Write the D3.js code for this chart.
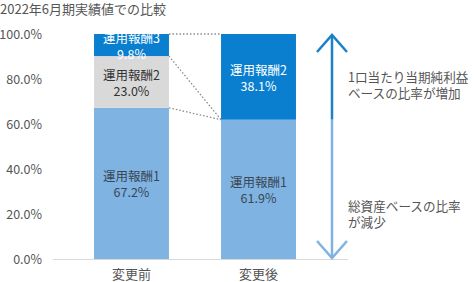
<!DOCTYPE html>
<html>
<head>
<meta charset="utf-8">
<script src="https://cdn.jsdelivr.net/npm/d3@7"></script>
<style>
  body { margin: 0; background: #fff; }
  svg { font-family: "Noto Sans CJK JP", "Noto Sans", sans-serif; }
</style>
</head>
<body>
<div id="chart"></div>
<script>
var categories = ["変更前", "変更後"];
var segNames = ["運用報酬1", "運用報酬2", "運用報酬3"];
var before = [67.2, 23.0, 9.8];
var after = [61.9, 38.1, 0];
var ticks = [0, 20, 40, 60, 80, 100];
var title = "2022年6月期実績値での比較";
var upNote = ["1口当たり当期純利益", "ベースの比率が増加"];
var downNote = ["総資産ベースの比率", "が減少"];

var width = 474;
var height = 282;

var svg = d3
  .select("#chart")
  .append("svg")
  .attr("width", width)
  .attr("height", height);

var x = d3.scaleBand().domain(categories).range([53, 337]).paddingInner(0.41).paddingOuter(0.323);
var y = d3.scaleLinear().domain([0, 100]).range([259, 34]);

// segment colours per bar
var fills = [
  ["#7fb3e1", "#d9d9d9", "#0a7fcf"],
  ["#7fb3e1", "#0a7fcf", "#0a7fcf"]
];
var textFills = [
  ["#3a4756", "#333333", "#ffffff"],
  ["#3a4756", "#ffffff", "#ffffff"]
];

svg
  .append("text")
  .attr("x", 0)
  .attr("y", 14)
  .attr("font-size", 13)
  .attr("fill", "#555")
  .text(title);

// y tick labels
svg
  .append("g")
  .selectAll("text")
  .data(ticks)
  .enter()
  .append("text")
  .attr("x", 42)
  .attr("y", function(d) { return y(d); })
  .attr("dy", "0.36em")
  .attr("text-anchor", "end")
  .attr("font-size", 12.5)
  .attr("fill", "#555")
  .text(function(d) { return d.toFixed(1) + "%"; });

var series = [before, after];
var stacks = series.map(function(vals, bi) {
  var acc = 0;
  return vals.map(function(v, si) {
    var s = { bar: bi, seg: si, y0: acc, y1: acc + v, value: v };
    acc += v;
    return s;
  }).filter(function(s) { return s.value > 0; });
});

// connector dotted lines
var b1 = x(categories[0]) + x.bandwidth();
var b2 = x(categories[1]);
var links = [
  [before[0], after[0]],
  [before[0] + before[1], after[0]],
  [100, 100]
];
svg
  .append("g")
  .selectAll("line")
  .data(links)
  .enter()
  .append("line")
  .attr("x1", b1)
  .attr("x2", b2)
  .attr("y1", function(d) { return y(d[0]); })
  .attr("y2", function(d) { return y(d[1]); })
  .attr("stroke", "#8a8a8a")
  .attr("stroke-width", 1.3)
  .attr("stroke-dasharray", "1.5,2");

var segs = d3.merge(stacks);
var seg = svg
  .append("g")
  .selectAll("g")
  .data(segs)
  .enter()
  .append("g");

seg
  .append("rect")
  .attr("x", function(d) { return x(categories[d.bar]); })
  .attr("width", x.bandwidth())
  .attr("y", function(d) { return y(d.y1); })
  .attr("height", function(d) { return y(d.y0) - y(d.y1); })
  .attr("fill", function(d) { return fills[d.bar][d.seg]; });

var cx = function(d) { return x(categories[d.bar]) + x.bandwidth() / 2; };
var cy = function(d) { return y((d.y0 + d.y1) / 2); };

seg
  .append("text")
  .attr("text-anchor", "middle")
  .attr("font-size", 12.5)
  .attr("fill", function(d) { return textFills[d.bar][d.seg]; })
  .attr("x", cx)
  .attr("y", function(d) { return cy(d) - 2; })
  .text(function(d) { return segNames[d.seg]; });
seg
  .append("text")
  .attr("text-anchor", "middle")
  .attr("font-size", 12.5)
  .attr("fill", function(d) { return textFills[d.bar][d.seg]; })
  .attr("x", cx)
  .attr("y", function(d) { return cy(d) + 14; })
  .text(function(d) { return d.value.toFixed(1) + "%"; });

// baseline
svg
  .append("line")
  .attr("x1", 53)
  .attr("x2", 348)
  .attr("y1", y(0) + 0.5)
  .attr("y2", y(0) + 0.5)
  .attr("stroke", "#d9d9d9")
  .attr("stroke-width", 1);

// category labels
svg
  .append("g")
  .selectAll("text")
  .data(categories)
  .enter()
  .append("text")
  .attr("x", function(d) { return x(d) + x.bandwidth() / 2; })
  .attr("y", 279)
  .attr("text-anchor", "middle")
  .attr("font-size", 13)
  .attr("fill", "#555")
  .text(function(d) { return d; });

// arrows
var ax = 332;
var split = y(after[0]);
svg
  .append("line")
  .attr("x1", ax).attr("x2", ax)
  .attr("y1", y(100) + 1).attr("y2", split)
  .attr("stroke", "#1a80c8").attr("stroke-width", 2.5);
svg
  .append("path")
  .attr("d", "M" + (ax - 15) + "," + (y(100) + 18) + "L" + ax + "," + (y(100) + 1) + "L" + (ax + 15) + "," + (y(100) + 18))
  .attr("fill", "none").attr("stroke", "#1a80c8").attr("stroke-width", 2.5);
svg
  .append("line")
  .attr("x1", ax).attr("x2", ax)
  .attr("y1", split).attr("y2", y(0) - 1)
  .attr("stroke", "#7fb3e1").attr("stroke-width", 2.5);
svg
  .append("path")
  .attr("d", "M" + (ax - 15) + "," + (y(0) - 18) + "L" + ax + "," + (y(0) - 1) + "L" + (ax + 15) + "," + (y(0) - 18))
  .attr("fill", "none").attr("stroke", "#7fb3e1").attr("stroke-width", 2.5);

function note(lines, top) {
  svg
    .append("g")
    .selectAll("text")
    .data(lines)
    .enter()
    .append("text")
    .attr("x", 348)
    .attr("y", function(d, i) { return top + i * 16; })
    .attr("font-size", 12.6)
    .attr("fill", "#555")
    .text(function(d) { return d; });
}
note(upNote, 82);
note(downNote, 211);
</script>
</body>
</html>
